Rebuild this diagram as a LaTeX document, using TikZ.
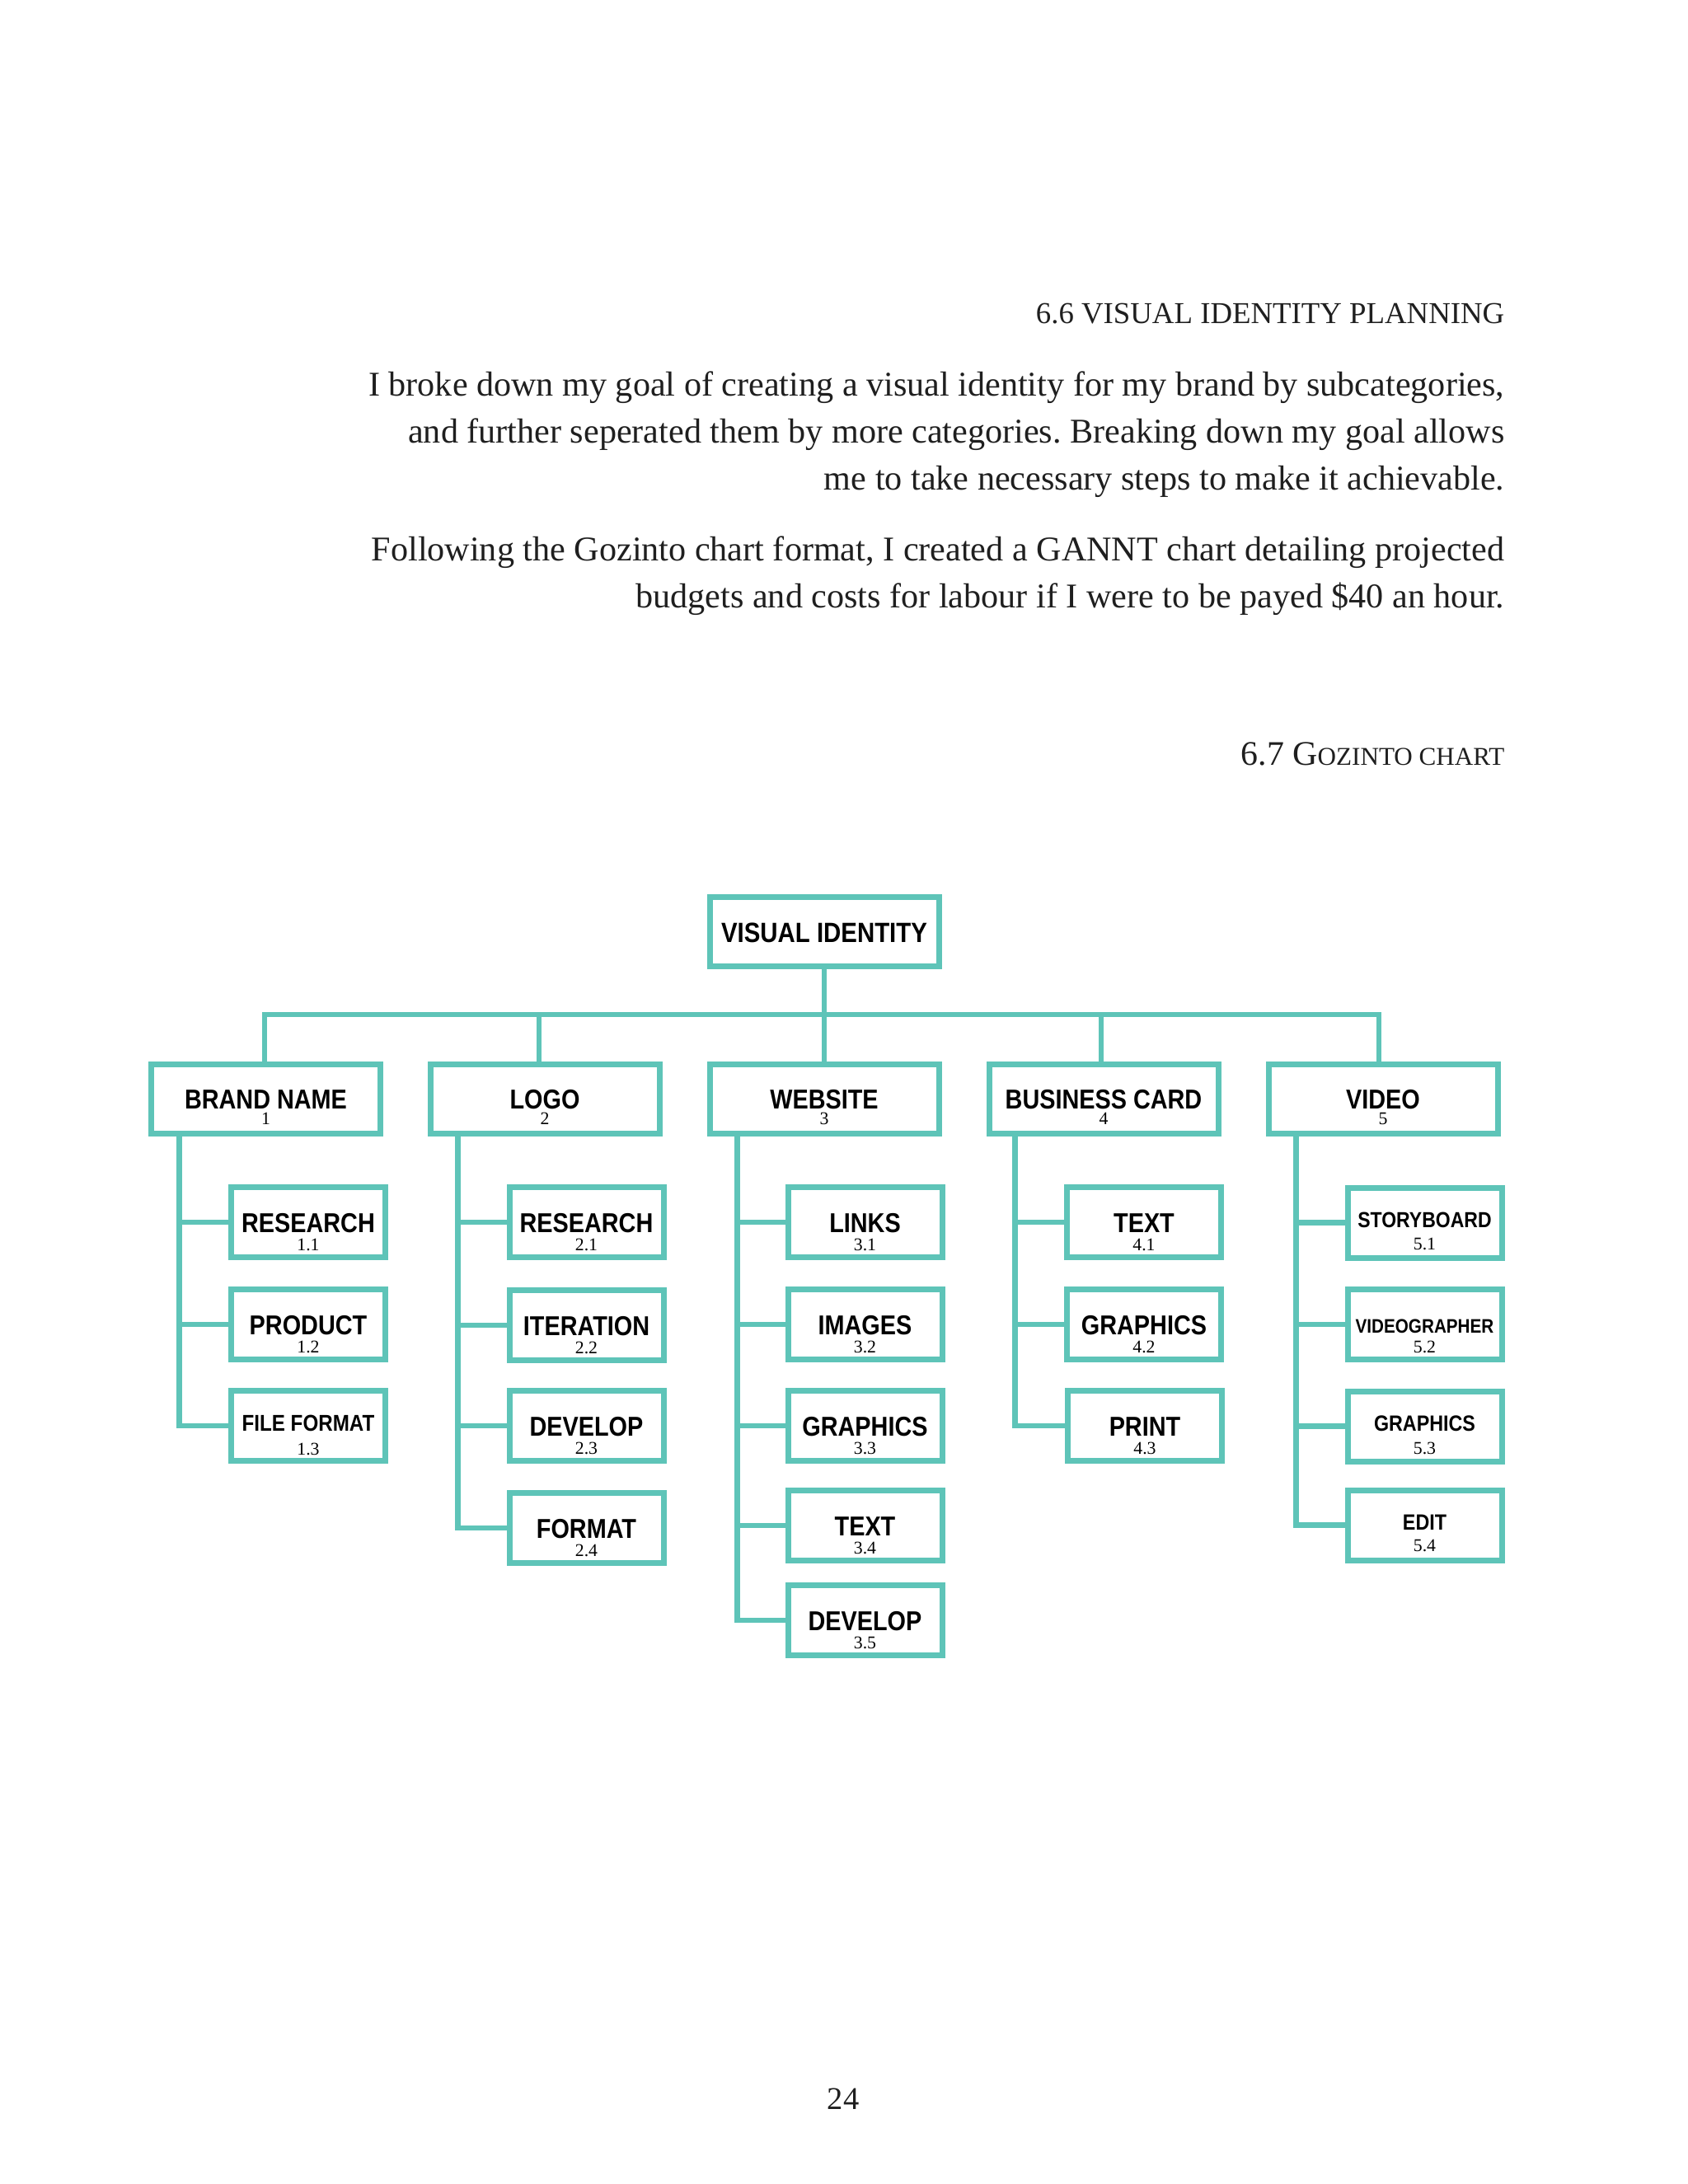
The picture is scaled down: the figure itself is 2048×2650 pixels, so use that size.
\documentclass[tikz,border=0pt]{standalone}
\usepackage{fontspec}
\setmainfont{Liberation Serif}
\newfontfamily\chartfont[FakeStretch=0.87]{Liberation Sans}
\newfontfamily\numfont{Liberation Serif}
\definecolor{gzteal}{RGB}{94,196,184}
\def\pxu{0.298828pt}
\frenchspacing
% #1 node name, #2 box style, #3 position, #4 font size, #5 name offset, #6 name, #7 number offset, #8 number
\newcommand\gzbox[8]{%
  \node[#2] (#1) at #3 {};
  \node[lbl, font=\chartfont\bfseries\fontsize{#4}{#4}\selectfont] (#1-t) at ([yshift=-#5*\pxu]#1.center) {#6};
  \node[numlbl] (#1-n) at ([yshift=-#7*\pxu]#1.center) {#8};
}
\begin{document}
\begin{tikzpicture}[x=0.298828pt, y=-0.298828pt,
  box1/.style={draw=gzteal, line width=7*\pxu, fill=white, inner sep=0pt,
    minimum width=278*\pxu, minimum height=84*\pxu},
  box2/.style={draw=gzteal, line width=7*\pxu, fill=white, inner sep=0pt,
    minimum width=187*\pxu, minimum height=85*\pxu},
  conn/.style={draw=gzteal, line width=6.5*\pxu, line join=miter},
  lbl/.style={anchor=base, inner sep=0pt, text=black},
  numlbl/.style={anchor=base, inner sep=0pt, text=black, font=\numfont\fontsize{6.5}{6.5}\selectfont},
  body/.style={anchor=base east, inner sep=0pt, text=black!88, font=\fontsize{12.6}{15}\selectfont}]

\fill[white] (0,0) rectangle (2048,2650);
\useasboundingbox (0,0) rectangle (2048,2650);

% ---- text block ----
\node[body, font=\fontsize{11}{14}\selectfont] (head66) at (1826,392) {6.6 VISUAL IDENTITY PLANNING};
\node[body] (p1a) at (1826,480) {I broke down my goal of creating a visual identity for my brand by subcategories,};
\node[body] (p1b) at (1826,537) {and further seperated them by more categories. Breaking down my goal allows};
\node[body] (p1c) at (1826,594) {me to take necessary steps to make it achievable.};
\node[body] (p2a) at (1826,680) {Following the Gozinto chart format, I created a GANNT chart detailing projected};
\node[body] (p2b) at (1826,737) {budgets and costs for labour if I were to be payed \$40 an hour.};
\node[body, font=\fontsize{12.5}{15}\selectfont] (head67) at (1826,928)
  {6.7 G{\fontsize{9.3}{11}\selectfont OZINTO CHART}};
\node[anchor=base, inner sep=0pt, text=black!88, font=\fontsize{11.5}{14}\selectfont] (pnum) at (1023,2559) {24};

% ---- chart ----
\node[box1] (vi) at (1000,1130.5) {};
\node[lbl, font=\chartfont\bfseries\fontsize{10.1}{10.1}\selectfont] (vi-t) at ([yshift=-12.5*\pxu]vi.center) {VISUAL IDENTITY};

\gzbox{bn}{box1}{(322.5,1333)}{9.9}{12}{BRAND NAME}{31}{1}
\gzbox{lg}{box1}{(661,1333)}{9.9}{12}{LOGO}{31}{2}
\gzbox{ws}{box1}{(1000,1333)}{9.9}{12}{WEBSITE}{31}{3}
\gzbox{bc}{box1}{(1339,1333)}{9.9}{12}{BUSINESS CARD}{31}{4}
\gzbox{vd}{box1}{(1678,1333)}{9.9}{12}{VIDEO}{31}{5}

\gzbox{b11}{box2}{(374,1483)}{9.9}{12}{RESEARCH}{34}{1.1}
\gzbox{b12}{box2}{(374,1607)}{9.9}{12}{PRODUCT}{34}{1.2}
\gzbox{b13}{box2}{(374,1730)}{8.3}{6}{FILE FORMAT}{35}{1.3}

\gzbox{b21}{box2}{(711.5,1483)}{9.9}{12}{RESEARCH}{34}{2.1}
\gzbox{b22}{box2}{(711.5,1608)}{9.9}{12}{ITERATION}{34}{2.2}
\gzbox{b23}{box2}{(711.5,1730)}{9.9}{12}{DEVELOP}{34}{2.3}
\gzbox{b24}{box2}{(711.5,1854)}{9.9}{12}{FORMAT}{34}{2.4}

\gzbox{b31}{box2}{(1049.5,1483)}{9.9}{12}{LINKS}{34}{3.1}
\gzbox{b32}{box2}{(1049.5,1607)}{9.9}{12}{IMAGES}{34}{3.2}
\gzbox{b33}{box2}{(1049.5,1730)}{9.9}{12}{GRAPHICS}{34}{3.3}
\gzbox{b34}{box2}{(1049.5,1851)}{9.9}{12}{TEXT}{34}{3.4}
\gzbox{b35}{box2}{(1049.5,1966)}{9.9}{12}{DEVELOP}{34}{3.5}

\gzbox{b41}{box2}{(1388,1483)}{9.9}{12}{TEXT}{34}{4.1}
\gzbox{b42}{box2}{(1388,1607)}{9.9}{12}{GRAPHICS}{34}{4.2}
\gzbox{b43}{box2}{(1389,1730)}{9.9}{12}{PRINT}{34}{4.3}

\gzbox{b51}{box2}{(1728.5,1483.5)}{7.9}{6}{STORYBOARD}{33}{5.1}
\gzbox{b52}{box2}{(1728.5,1607)}{7.1}{10}{VIDEOGRAPHER}{34}{5.2}
\gzbox{b53}{box2}{(1728.5,1730.5)}{8.0}{5.5}{GRAPHICS}{34}{5.3}
\gzbox{b54}{box2}{(1728.5,1850.5)}{8.0}{5.5}{EDIT}{32}{5.4}

% ---- connectors ----
\coordinate (bus) at (1000,1231);
\coordinate (dbn) at ([xshift=-1.5*\pxu]bn.north);
\coordinate (dlg) at ([xshift=-7*\pxu]lg.north);
\coordinate (dbc) at ([xshift=-3*\pxu]bc.north);
\coordinate (dvd) at ([xshift=-5*\pxu]vd.north);
\draw[conn] (vi.south) -- (vi.south |- bus);
\draw[conn] (dbn) -- (dbn |- bus) -- (dvd |- bus) -- (dvd);
\draw[conn] (dlg) -- (dlg |- bus);
\draw[conn] (ws.north) -- (ws.north |- bus);
\draw[conn] (dbc) -- (dbc |- bus);

\coordinate (t1) at ([xshift=37.5*\pxu]bn.south west);
\coordinate (t2) at ([xshift=37*\pxu]lg.south west);
\coordinate (t3) at ([xshift=37*\pxu]ws.south west);
\coordinate (t4) at ([xshift=35*\pxu]bc.south west);
\coordinate (t5) at ([xshift=37*\pxu]vd.south west);

\draw[conn] (t1) |- (b13.west);
\draw[conn] (t1 |- b11.west) -- (b11.west);
\draw[conn] (t1 |- b12.west) -- (b12.west);

\draw[conn] (t2) |- (b24.west);
\draw[conn] (t2 |- b21.west) -- (b21.west);
\draw[conn] (t2 |- b22.west) -- (b22.west);
\draw[conn] (t2 |- b23.west) -- (b23.west);

\draw[conn] (t3) |- (b35.west);
\draw[conn] (t3 |- b31.west) -- (b31.west);
\draw[conn] (t3 |- b32.west) -- (b32.west);
\draw[conn] (t3 |- b33.west) -- (b33.west);
\draw[conn] (t3 |- b34.west) -- (b34.west);

\draw[conn] (t4) |- (b43.west);
\draw[conn] (t4 |- b41.west) -- (b41.west);
\draw[conn] (t4 |- b42.west) -- (b42.west);

\draw[conn] (t5) |- (b54.west);
\draw[conn] (t5 |- b51.west) -- (b51.west);
\draw[conn] (t5 |- b52.west) -- (b52.west);
\draw[conn] (t5 |- b53.west) -- (b53.west);
\end{tikzpicture}
\end{document}
